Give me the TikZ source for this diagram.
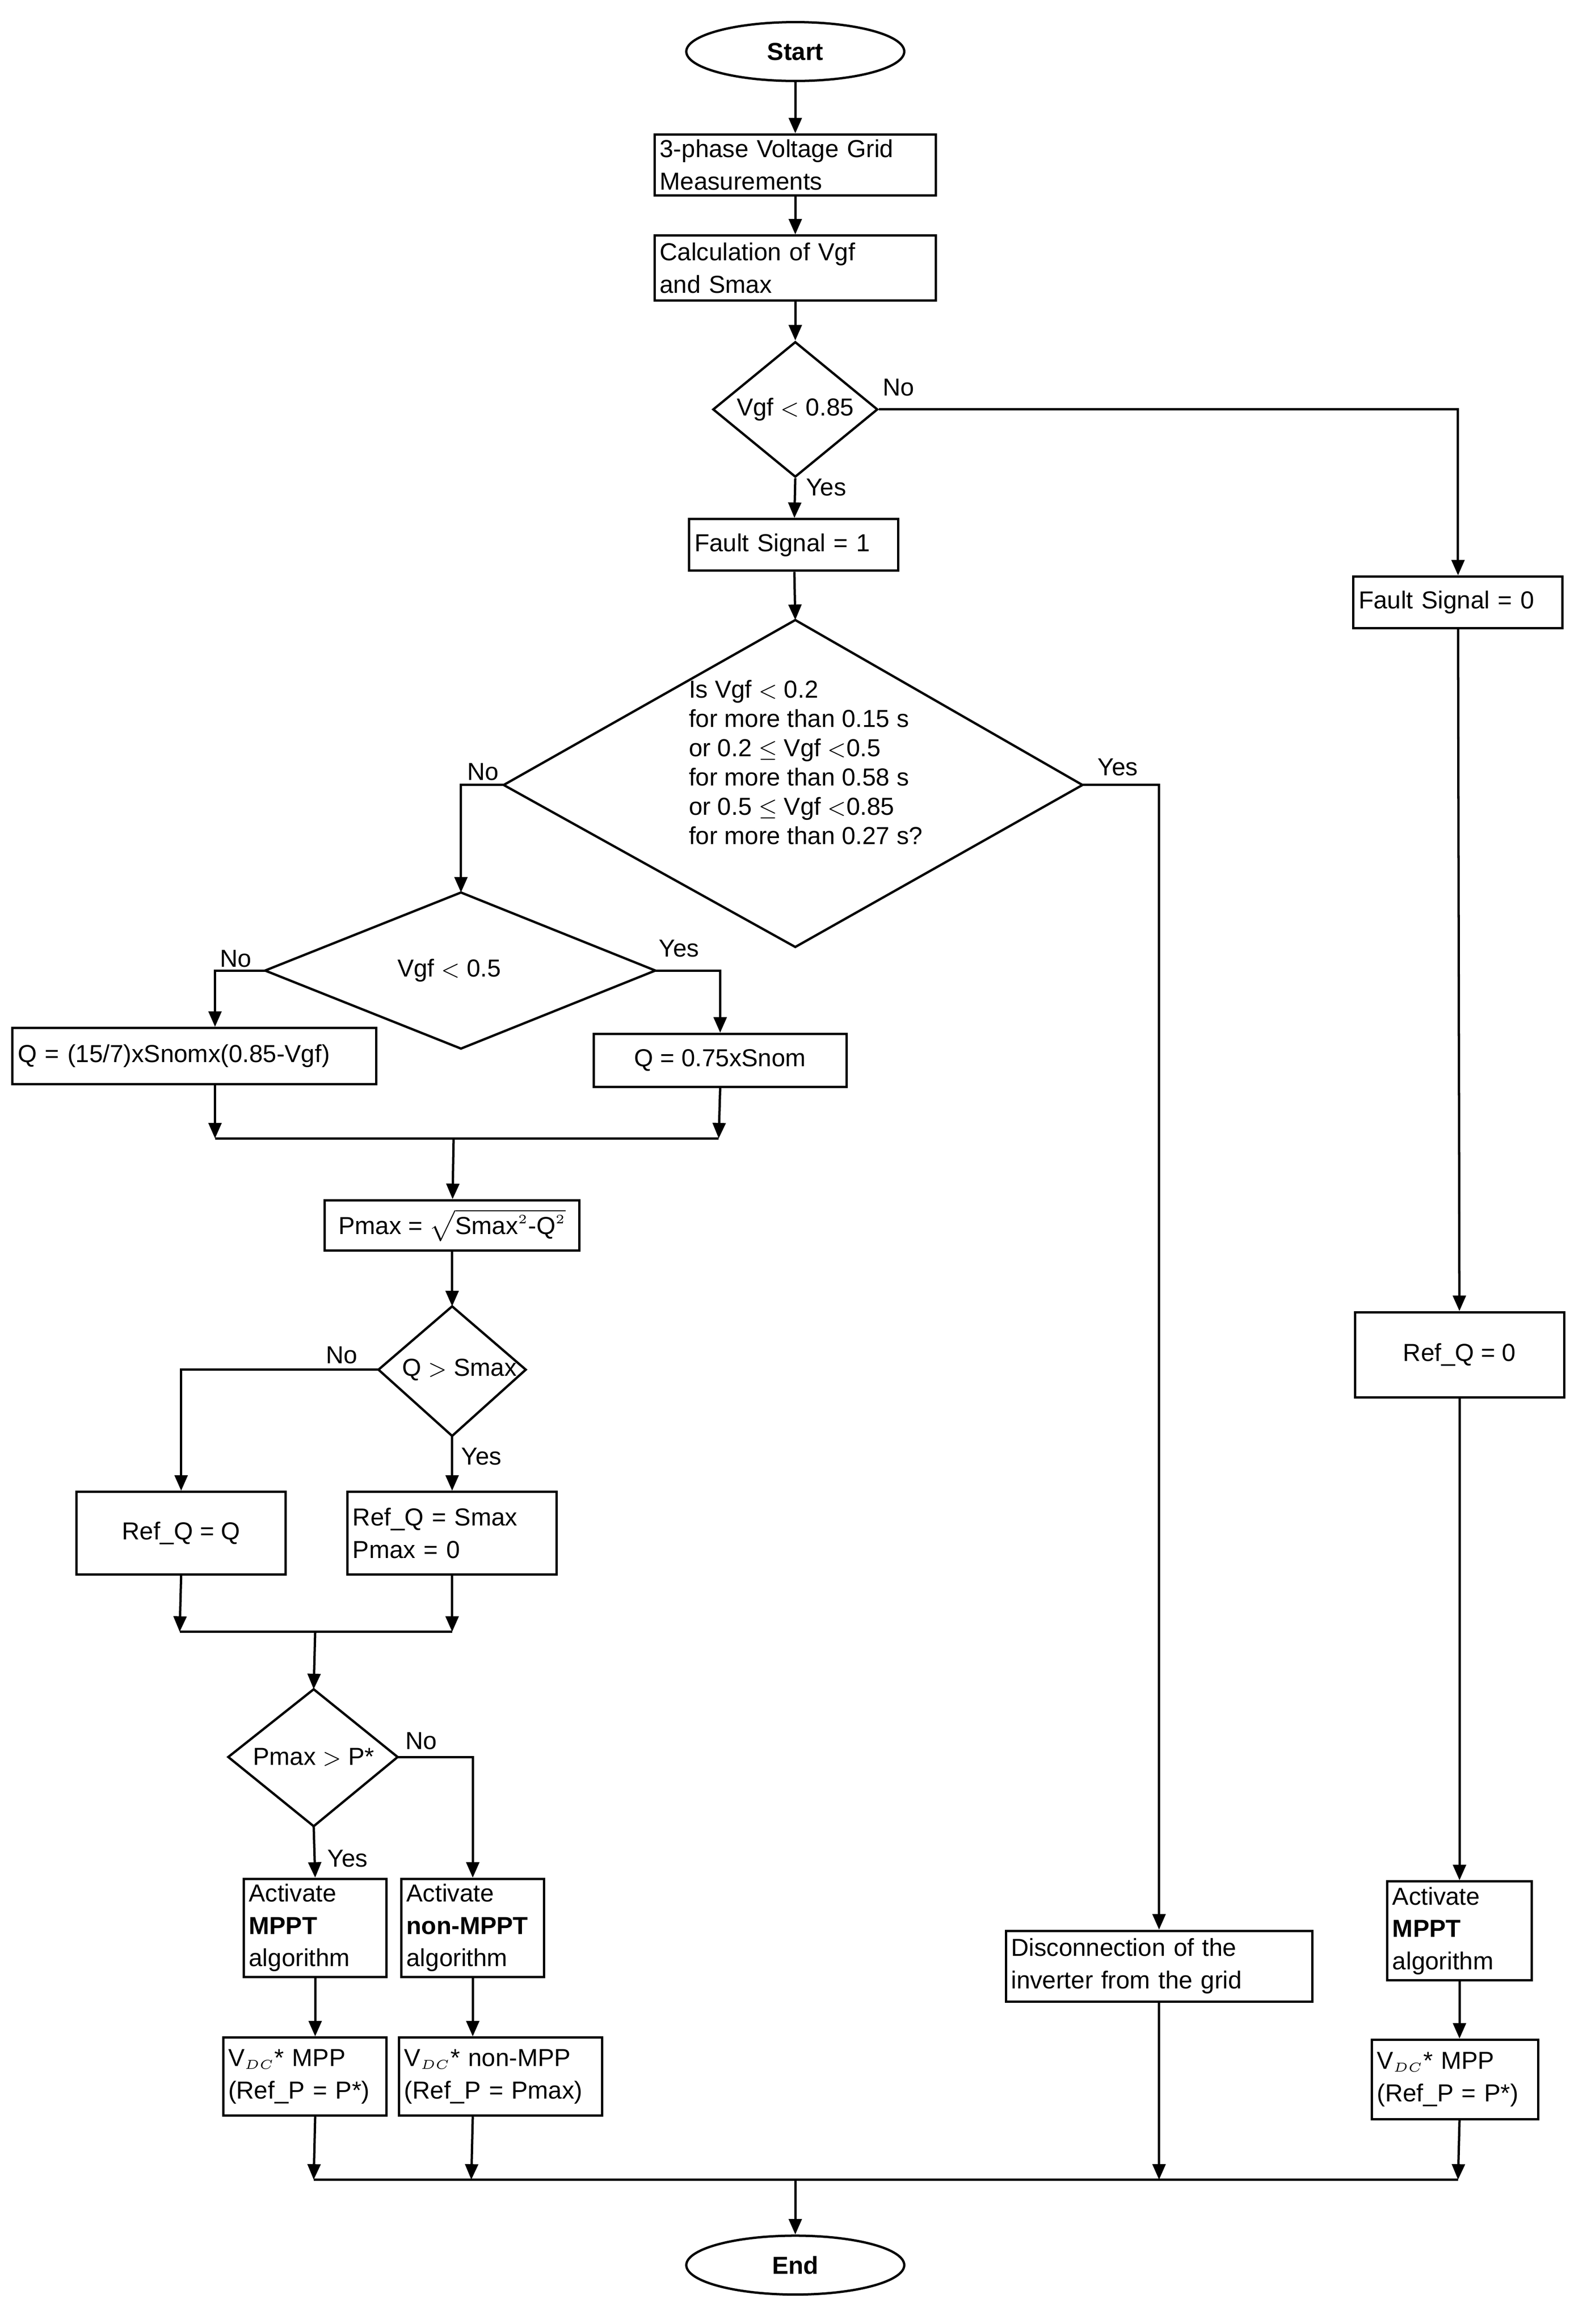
\documentclass[tikz,border=0pt]{standalone}
\usepackage{fontspec}
\setmainfont{Liberation Sans}
\usetikzlibrary{shapes.geometric,arrows.meta}
\begin{document}
\begin{tikzpicture}[x=0.02cm,y=-0.02cm,
  every node/.style={font=\fontsize{9.5}{12.5}\selectfont},
  line width=0.9pt,
  arr/.style={-{Triangle[length=6pt,width=5pt]}},
  box/.style={draw,rectangle,inner sep=2pt,align=left},
  dia/.style={draw,diamond,inner sep=0pt},
  ell/.style={draw,ellipse,inner sep=0pt},
  lab/.style={inner sep=1pt}]
\useasboundingbox (0,0) rectangle (1080,1578);
% helper: box by corners
\newcommand{\bx}[6]{\node[box,minimum width=#3*0.02cm,minimum height=#4*0.02cm,text width=#3*0.02cm-4pt] (#5) at (#1,#2) {#6};}
\node[ell,minimum width=2.96cm,minimum height=0.8cm,font=\bfseries\fontsize{9.5}{12}\selectfont] (start) at (540,35) {Start};
\bx{540}{112}{191}{38}{m}{3-phase Voltage Grid\\Measurements}
\bx{540}{182}{191}{44}{c}{Calculation of Vgf\\and Smax}
\node[dia,minimum width=2.24cm,minimum height=1.84cm,aspect=1.2] (d1) at (540,278) {};
\node at (d1) {Vgf $<$ 0.85};
\bx{539}{370}{142}{35}{fs1}{Fault Signal = 1}
\bx{990}{409}{142}{35}{fs0}{Fault Signal = 0}
% big diamond drawn as path with named coordinates
\coordinate (bt) at (540,421); \coordinate (bb) at (540,643);
\coordinate (bl) at (342,533); \coordinate (br) at (735,533);
\draw (bt) -- (br) -- (bb) -- (bl) -- cycle;
\node[align=left,anchor=north west,inner sep=0pt,font=\fontsize{9.5}{11.3}\selectfont] (bigtxt) at (467,461) {Is Vgf $<$ 0.2\\for more than 0.15 s\\or 0.2 $\leq$ Vgf $<$0.5\\for more than 0.58 s\\or 0.5 $\leq$ Vgf $<$0.85\\for more than 0.27 s?};
\coordinate (d3t) at (313,606); \coordinate (d3b) at (313,712);
\coordinate (d3l) at (180,659); \coordinate (d3r) at (445,659);
\draw (d3t) -- (d3r) -- (d3b) -- (d3l) -- cycle;
\node (d3txt) at (305,659) {Vgf $<$ 0.5};
\bx{132}{717}{247}{38}{q1}{Q = (15/7)xSnomx(0.85-Vgf)}
\node[box,minimum width=3.44cm,minimum height=0.72cm] (q2) at (489,720) {Q = 0.75xSnom};
\coordinate (m1) at (308,773);
\node[box,minimum width=3.46cm,minimum height=0.68cm] (pm) at (307,832) {Pmax = $\sqrt{\mbox{Smax}^{\scriptscriptstyle 2}\mbox{-Q}^{\scriptscriptstyle 2}}$};
\coordinate (d4t) at (307,887); \coordinate (d4b) at (307,975);
\coordinate (d4l) at (257,930); \coordinate (d4r) at (357,930);
\draw (d4t) -- (d4r) -- (d4b) -- (d4l) -- cycle;
\node (d4txt) at (312,930) {Q $>$ Smax};
\node[box,minimum width=2.84cm,minimum height=1.12cm] (rq1) at (123,1041) {Ref\_Q = Q};
\bx{307}{1041}{142}{56}{rq2}{Ref\_Q = Smax\\Pmax = 0}
\coordinate (m2) at (214,1108);
\coordinate (d5t) at (213,1147); \coordinate (d5b) at (213,1240);
\coordinate (d5l) at (155,1193); \coordinate (d5r) at (270,1193);
\draw (d5t) -- (d5r) -- (d5b) -- (d5l) -- cycle;
\node (d5txt) at (213,1193) {Pmax $>$ P*};
\bx{214}{1309}{97}{65}{a1}{Activate\\\textbf{MPPT}\\algorithm}
\bx{321}{1309}{97}{65}{a2}{Activate\\\textbf{non-MPPT}\\algorithm}
\bx{207}{1410}{111}{53}{v1}{V$_{\scriptscriptstyle DC}$* MPP\\(Ref\_P = P*)}
\bx{340}{1410}{138}{53}{v2}{V$_{\scriptscriptstyle DC}$* non-MPP\\(Ref\_P = Pmax)}
\bx{787}{1335}{208}{48}{dis}{Disconnection of the\\inverter from the grid}
\node[box,minimum width=2.84cm,minimum height=1.16cm] (rq0) at (991,920) {Ref\_Q = 0};
\bx{991}{1311}{98}{67}{a3}{Activate\\\textbf{MPPT}\\algorithm}
\bx{988}{1412}{113}{54}{v3}{V$_{\scriptscriptstyle DC}$* MPP\\(Ref\_P = P*)}
\coordinate (m3) at (540,1480);
\node[ell,minimum width=2.96cm,minimum height=0.8cm,font=\bfseries\fontsize{9.5}{12}\selectfont] (end) at (540,1538) {End};
% connectors
\draw[arr] (start) -- (m);
\draw[arr] (m) -- (c);
\draw[arr] (c) -- (d1.north);
\draw[arr] (d1.east) -| (fs0.north);
\draw[arr] (d1.south) -- (fs1);
\draw[arr] (fs1) -- (bt);
\draw[arr] (bl) -| (d3t);
\draw[arr] (br) -| (dis.north);
\draw[arr] (d3l) -| (q1.north -| 146,0);
\draw[arr] (d3r) -| (q2.north);
\draw[arr] (q1.south -| 146,0) -- (146,773);
\draw[arr] (q2.south) -- (488,773);
\draw (146,773) -- (488,773);
\draw[arr] (m1) -- (pm);
\draw[arr] (pm) -- (d4t);
\draw[arr] (d4l) -| (rq1.north);
\draw[arr] (d4b) -- (rq2.north);
\draw[arr] (rq1.south) -- (122,1108);
\draw[arr] (rq2.south) -- (307,1108);
\draw (122,1108) -- (307,1108);
\draw[arr] (m2) -- (d5t);
\draw[arr] (d5b) -- (a1.north);
\draw[arr] (d5r) -| (a2.north);
\draw[arr] (a1.south) -- (v1.north -| a1.south);
\draw[arr] (a2.south) -- (v2.north -| a2.south);
\draw[arr] (v1.south -| a1.south) -- (213,1480);
\draw[arr] (v2.south -| a2.south) -- (320,1480);
\draw[arr] (dis.south) -- (787,1480);
\draw[arr] (fs0) -- (rq0);
\draw[arr] (rq0) -- (a3);
\draw[arr] (a3) -- (v3.north -| a3.south);
\draw[arr] (v3.south -| a3.south) -- (990,1480);
\draw (213,1480) -- (990,1480);
\draw[arr] (m3) -- (end);
% labels
\node[lab] (l1) at (610,263) {No};
\node[lab] (l2) at (561,331) {Yes};
\node[lab] (l3) at (328,524) {No};
\node[lab] (l4) at (759,521) {Yes};
\node[lab] (l5) at (160,651) {No};
\node[lab] (l6) at (461,644) {Yes};
\node[lab] (l7) at (232,920) {No};
\node[lab] (l8) at (327,989) {Yes};
\node[lab] (l9) at (286,1182) {No};
\node[lab] (l10) at (236,1262) {Yes};
\end{tikzpicture}
\end{document}
